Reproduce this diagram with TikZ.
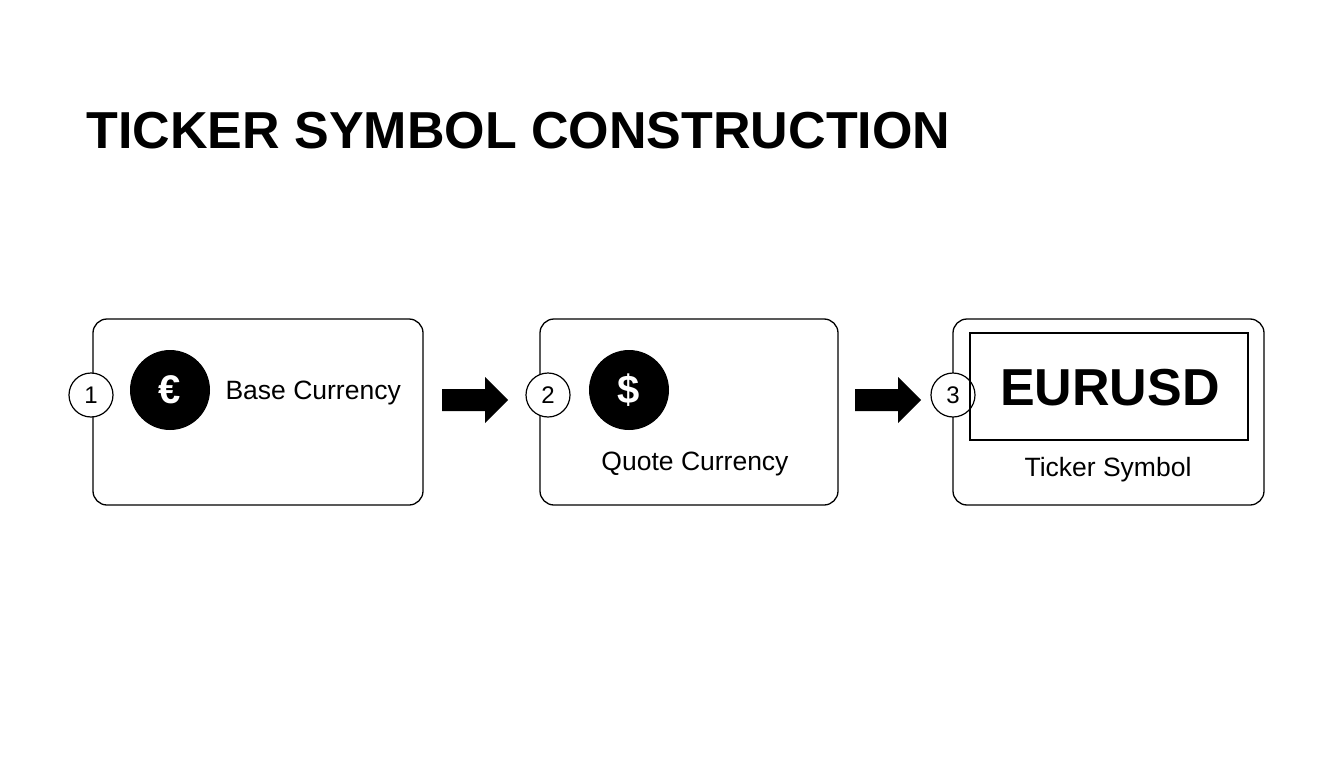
\documentclass[tikz,border=0pt]{standalone}
\usepackage{fontspec}
\setmainfont{Liberation Sans}
\begin{document}
\begin{tikzpicture}[x=1pt,y=-1pt,
  card/.style={draw,line width=1.3pt,rounded corners=14pt},
  num/.style={circle,draw,line width=1.2pt,fill=white,minimum size=44pt,inner sep=0pt,font=\fontsize{24}{26}\selectfont},
  coin/.style={circle,fill=black,minimum size=80pt,inner sep=0pt,text=white,font=\bfseries\fontsize{40}{44}\selectfont},
  lbl/.style={font=\fontsize{26.5}{30}\selectfont},
  blk/.style={fill=black}]
\useasboundingbox (0,0) rectangle (1344,768);
\node[anchor=base west,font=\bfseries\fontsize{52}{58}\selectfont] (title) at (83,148) {TICKER SYMBOL CONSTRUCTION};
\draw[card] (93,319) rectangle (423,505);
\draw[card] (540,319) rectangle (838,505);
\draw[card] (953,319) rectangle (1264,505);
\node[num] (n1) at (91,395) {1};
\node[num] (n2) at (548,395) {2};
\node[num] (n3) at (953,395) {3};
\node[coin] (eur) at (170,390) {€};
\node[coin] (usd) at (629,390) {\$};
\node[lbl,anchor=west] (base) at (222,393) {Base Currency};
\node[lbl] (quote) at (695,464) {Quote Currency};
\draw[line width=1.3pt] (970,333) rectangle (1248,440);
\node[font=\bfseries\fontsize{52}{56}\selectfont] (sym) at (1110,388) {EURUSD};
\node[lbl] (tick) at (1108,470) {Ticker Symbol};
\coordinate (a1) at (442,400);
\coordinate (a2) at (855,400);
\foreach \c in {a1,a2}
  \fill[blk] ([yshift=11pt]\c) -- ++(43,0) -- ++(0,-12) -- ++(23,23) -- ++(-23,23) -- ++(0,-12) -- ++(-43,0) -- cycle;
\end{tikzpicture}
\end{document}
